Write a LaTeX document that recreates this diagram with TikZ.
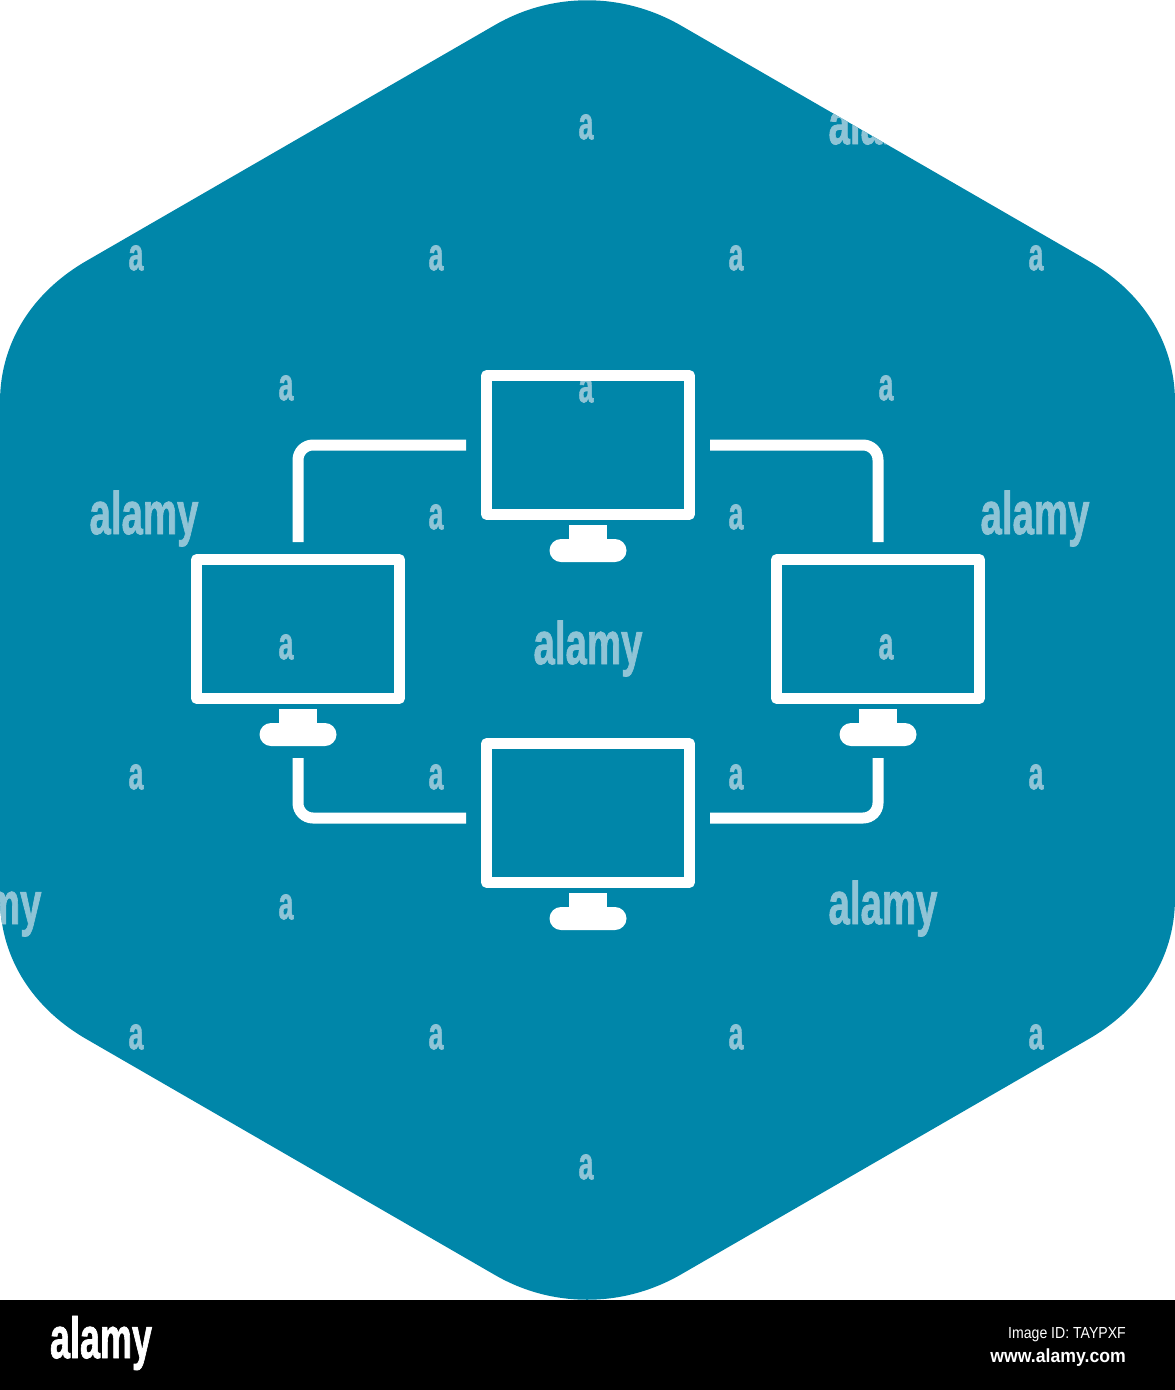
\documentclass[tikz,border=0pt]{standalone}
\usepackage{fontspec}
\setmainfont{Liberation Sans}
\newfontfamily\heavyfont[FakeBold=1.6]{Liberation Sans Bold}
\usetikzlibrary{shapes.misc}
\definecolor{hexblue}{HTML}{0086A9}
\definecolor{wmark}{HTML}{8FC4D6}
\tikzset{
  x=1pt,y=-1pt,
  screen/.style={draw=white,line width=11pt,line join=round,fill=none,minimum width=203pt,minimum height=138.5pt,inner sep=0pt,outer sep=0pt},
  neck/.style={fill=white,minimum width=38pt,minimum height=18pt,inner sep=0pt,outer sep=0pt},
  foot/.style={fill=white,rounded rectangle,minimum width=77pt,minimum height=23pt,inner sep=0pt,outer sep=0pt},
  link/.style={draw=white,line width=11pt,rounded corners=15pt},
  smallmark/.style={text=wmark,font=\heavyfont\fontsize{46}{46}\selectfont,xscale=0.58,transform shape,inner sep=0pt},
  bigmark/.style={text=wmark,font=\heavyfont\fontsize{60}{60}\selectfont,xscale=0.64,transform shape,inner sep=0pt,anchor=base},
  logo/.style={text=white,font=\heavyfont\fontsize{58}{58}\selectfont,xscale=0.62,transform shape,inner sep=0pt,anchor=base},
  idtext/.style={text=white,inner sep=0pt,anchor=base east,transform shape},
}
\newcommand{\hexpath}{(495,25) .. controls (552,-8) and (622,-8) .. (680,25) -- (1087,260) .. controls (1140,290) and (1175,340) .. (1175,402) -- (1175,898) .. controls (1175,960) and (1140,1010) .. (1087,1040) -- (680,1275) .. controls (622,1308) and (552,1308) .. (495,1275) -- (88,1040) .. controls (35,1010) and (0,960) .. (0,898) -- (0,402) .. controls (0,340) and (35,290) .. (88,260) -- cycle}
\newcommand{\monitor}[3]{%
  \node[screen] (#1) at (#2,#3) {};
  \node[neck] (#1neck) at (#2,#3+89) {};
  \node[foot] (#1foot) at (#2,#3+105.5) {};
}
\begin{document}
\begin{tikzpicture}
\useasboundingbox (0,0) rectangle (1175,1390);
\fill[white] (0,0) rectangle (1175,1390);
\fill[hexblue] \hexpath;
\begin{scope}
  \clip \hexpath;
  \foreach \px/\py [count=\i] in {586/127,136/258,436/258,736/258,1036/258,286/388,586/390,886/388,436/517,736/517,286/647,886/647,136/777,436/777,736/777,1036/777,286/907,136/1037,436/1037,736/1037,1036/1037,586/1167}
    \node[smallmark] (sm\i) at (\px,\py) {a};
  \foreach \px/\py [count=\i] in {144/534,1035/534,588/664,883/924,-13/924,883/144}
    \node[bigmark] (bm\i) at (\px,\py) {alamy};
\end{scope}
\monitor{mtop}{588}{445}
\monitor{mleft}{298}{629}
\monitor{mright}{878}{629}
\monitor{mbot}{588}{813}
\coordinate (tl) at (466,445);
\coordinate (tlb) at (298,542);
\coordinate (tr) at (710,445);
\coordinate (trb) at (878,542);
\coordinate (bl) at (466,818);
\coordinate (blt) at (298,758);
\coordinate (br) at (710,818);
\coordinate (brt) at (878,758);
\draw[link] (tl) -| (tlb);
\draw[link] (tr) -| (trb);
\draw[link] (bl) -| (blt);
\draw[link] (br) -| (brt);
\fill[black] (0,1300) rectangle (1175,1390);
\node[logo] (logo) at (101,1358) {alamy};
\node[idtext,font=\fontsize{16}{16}\selectfont,xscale=0.88] (imgid) at (1126,1338) {Image ID: TAYPXF};
\node[idtext,font=\bfseries\fontsize{19}{19}\selectfont,xscale=0.93] (www) at (1126,1362) {www.alamy.com};
\end{tikzpicture}
\end{document}
